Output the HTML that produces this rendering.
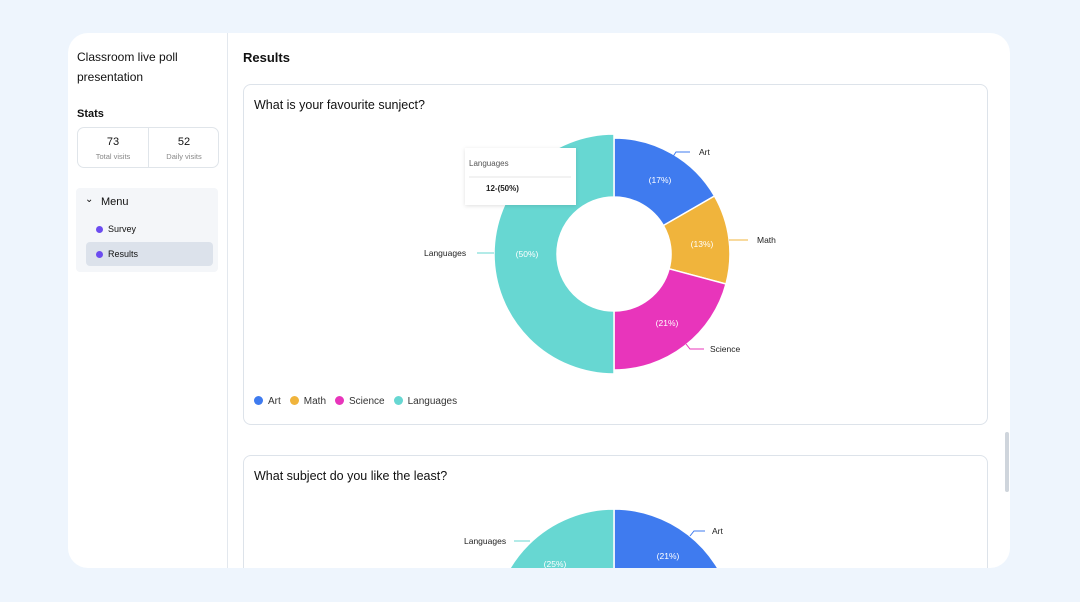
<!DOCTYPE html>
<html style="overflow:hidden;height:602px"><head><style>
body{margin:0;width:1080px;height:602px;background:#eef5fd;font-family:"Liberation Sans",sans-serif;position:relative;overflow:hidden;color:#111}
.panel{position:absolute;left:68px;top:33px;width:942px;height:535px;background:#fff;border-radius:20px;overflow:hidden}
.side{position:absolute;left:0;top:0;width:159px;height:100%;border-right:1px solid #e3e8ee}
.a{position:absolute;white-space:nowrap}
.card{position:absolute;left:175px;width:743px;border:1px solid #dde3ea;border-radius:8px;background:#fff}
.dot{display:inline-block;width:9px;height:9px;border-radius:50%;vertical-align:-1px;margin-right:5px}
.sp{display:inline-block;width:9px}
</style></head><body>
<div class="panel">
 <div class="side">
  <div class="a" style="left:9px;top:14px;font-size:12px;line-height:20px">Classroom live poll<br>presentation</div>
  <div class="a" style="left:9px;top:75px;font-size:11px;font-weight:bold">Stats</div>
  <div class="a" style="left:9px;top:94px;width:140px;height:39px;border:1px solid #e0e5ea;border-radius:7px">
   <div class="a" style="left:70px;top:0;width:1px;height:39px;background:#e0e5ea"></div>
   <div class="a" style="left:0;width:70px;top:8px;text-align:center;font-size:11px">73</div>
   <div class="a" style="left:0;width:70px;top:24px;text-align:center;font-size:7.5px;color:#888">Total visits</div>
   <div class="a" style="left:71px;width:70px;top:8px;text-align:center;font-size:11px">52</div>
   <div class="a" style="left:71px;width:70px;top:24px;text-align:center;font-size:7.5px;color:#888">Daily visits</div>
  </div>
  <div class="a" style="left:8px;top:155px;width:142px;height:84px;background:#f4f6f9;border-radius:4px">
   <div class="a" style="left:9px;top:6px;font-size:10px">⌄</div>
   <div class="a" style="left:25px;top:8px;font-size:11px">Menu</div>
   <div class="a" style="left:20px;top:36px;font-size:9px"><span class="dot" style="background:#6c4cf0;width:7px;height:7px"></span>Survey</div>
   <div class="a" style="left:10px;top:54px;width:127px;height:24px;background:#dce2eb;border-radius:4px"></div>
   <div class="a" style="left:20px;top:61px;font-size:9px"><span class="dot" style="background:#6c4cf0;width:7px;height:7px"></span>Results</div>
  </div>
 </div>
 <div class="a" style="left:175px;top:17px;font-size:13px;font-weight:bold">Results</div>
 <div class="card" style="top:51px;height:339px">
  <div class="a" style="left:10px;top:13px;font-size:12.5px">What is your favourite sunject?</div>
  <div class="a" style="left:10px;top:311px;font-size:10px;color:#333"><span class="dot" style="background:#3f7bef"></span>Art<span class="sp"></span><span class="dot" style="background:#f0b43c"></span>Math<span class="sp"></span><span class="dot" style="background:#e835bb"></span>Science<span class="sp"></span><span class="dot" style="background:#67d7d2"></span>Languages</div>
 </div>
 <div class="card" style="top:422px;height:200px">
  <div class="a" style="left:10px;top:13px;font-size:12.5px">What subject do you like the least?</div>
 </div>
 <div class="a" style="left:937px;top:399px;width:4px;height:60px;background:#cfd5dc;border-radius:2px"></div>
</div>
<svg width="1080" height="602" style="position:absolute;left:0;top:0" font-family="Liberation Sans" font-size="8.5">
 <g stroke="#fff" stroke-width="1.5">
  <path d="M614,138 A116,116 0 0 1 714.5,196 L663.4,225.5 A57,57 0 0 0 614,197Z" fill="#3f7bef"/>
  <path d="M714.5,196 A116,116 0 0 1 726,284 L669.1,268.8 A57,57 0 0 0 663.4,225.5Z" fill="#f0b43c"/>
  <path d="M726,284 A116,116 0 0 1 614,370 L614,311 A57,57 0 0 0 669.1,268.8Z" fill="#e835bb"/>
  <path d="M614,374 A120,120 0 0 1 614,134 L614,197 A57,57 0 0 0 614,311Z" fill="#67d7d2"/>
 </g>
 <g fill="#fff" text-anchor="middle">
  <text x="660" y="183">(17%)</text><text x="702" y="247">(13%)</text>
  <text x="667" y="326">(21%)</text><text x="527" y="257">(50%)</text>
 </g>
 <g fill="none" stroke-width="1">
  <path d="M672,158 L676,152 L690,152" stroke="#3f7bef"/>
  <path d="M729,240 L748,240" stroke="#f0b43c"/>
  <path d="M686,344 L690,349 L704,349" stroke="#e835bb"/>
  <path d="M477,253 L494,253" stroke="#67d7d2"/>
 </g>
 <g fill="#222"><text x="699" y="155">Art</text><text x="757" y="243">Math</text><text x="710" y="352">Science</text><text x="424" y="256">Languages</text></g>
 <rect x="465" y="148" width="111" height="57" fill="#fff" style="filter:drop-shadow(0 1px 2px rgba(0,0,0,.12))"/>
 <text x="469" y="166" fill="#555" font-size="8">Languages</text>
 <line x1="469" y1="177" x2="571" y2="177" stroke="#e6e6e6"/>
 <text x="486" y="191" font-size="8" font-weight="bold" fill="#222">12-(50%)</text>
 <defs><clipPath id="c"><rect x="0" y="0" width="1080" height="568"/></clipPath></defs>
 <g clip-path="url(#c)" stroke="#fff" stroke-width="1.5">
  <path d="M614,509 A121,121 0 0 1 731,600 L670,615 A58,58 0 0 0 614,572Z" fill="#3f7bef"/>
  <path d="M493,630 A121,121 0 0 1 614,509 L614,572 A58,58 0 0 0 556,630Z" fill="#67d7d2"/>
  <text x="668" y="559" fill="#fff" stroke="none" text-anchor="middle">(21%)</text>
  <text x="555" y="567" fill="#fff" stroke="none" text-anchor="middle">(25%)</text>
 </g>
 <path d="M690,536 L694,531 L705,531" stroke="#3f7bef" fill="none"/>
 <path d="M514,541 L530,541" stroke="#67d7d2" fill="none"/>
 <text x="712" y="534" fill="#222">Art</text><text x="464" y="544" fill="#222">Languages</text>
</svg>
</body></html>
